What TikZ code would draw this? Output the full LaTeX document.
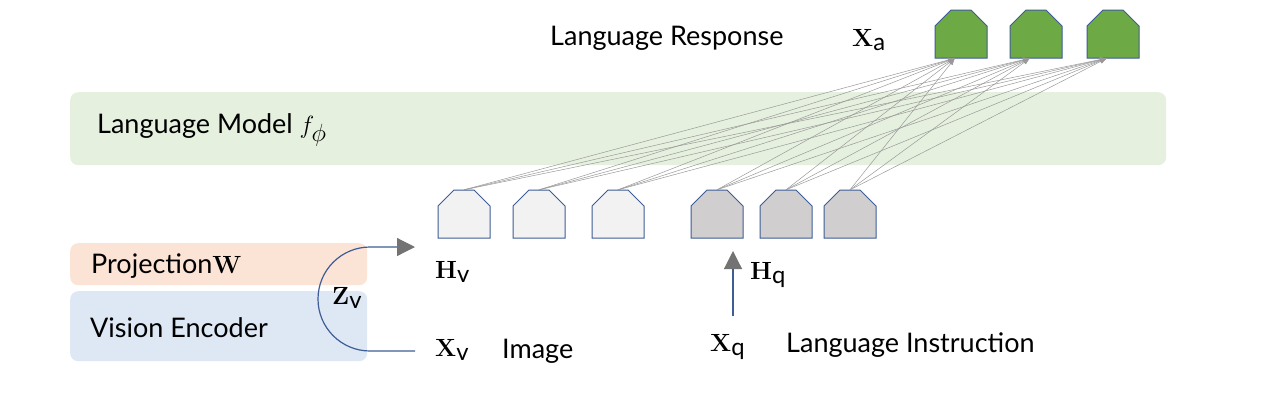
\documentclass[tikz,border=0pt]{standalone}
\usepackage{amsmath}
\usepackage[no-math]{fontspec}
\setmainfont{Lato}
\usetikzlibrary{arrows.meta}
\definecolor{tokb}{HTML}{3E5C96}
\definecolor{lmgreen}{HTML}{E6F0DF}
\definecolor{proj}{HTML}{FBE3D6}
\definecolor{venc}{HTML}{DEE8F5}
\definecolor{tgreen}{HTML}{6DAA45}
\definecolor{tlight}{HTML}{F2F2F2}
\definecolor{tdark}{HTML}{D0CECE}
\newcommand{\mytok}[4]{% name, x-left, y-top, fill
  \draw[tokb, fill=#4, line width=1pt] (#2,#3+48) -- (#2,#3+16) -- (#2+16,#3) -- (#2+36,#3) -- (#2+52,#3+16) -- (#2+52,#3+48) -- cycle;
  \node[inner sep=0pt, minimum width=52pt, minimum height=48pt] (#1) at (#2+26,#3+24) {};}
\begin{document}
\begin{tikzpicture}[x=1pt,y=-1pt,
  lbl/.style={font=\fontsize{27}{30}\selectfont, inner sep=0pt},
  mth/.style={font=\fontsize{34}{36}\selectfont, inner sep=0pt},
  box/.style={rounded corners=8pt, draw=none},
  conn/.style={gray!80, line width=0.5pt, -{Latex[length=7pt,width=5pt]}},
  bigarr/.style={tokb, line width=1.2pt, -{Triangle[length=18pt,width=18pt,fill=gray!90!black,color=gray!90!black]}}]
\useasboundingbox (0,0) rectangle (1271,400);
\node[box, fill=lmgreen, minimum width=1096pt, minimum height=73pt, anchor=north west] (lm) at (70,92) {};
\node[lbl, anchor=west] (lmt) at (97,130) {Language Model \fontsize{34}{36}\selectfont$f_\phi$};
\node[box, fill=proj, minimum width=297pt, minimum height=42pt, anchor=north west] (pj) at (70,243) {};
\node[lbl, anchor=west] (pjt) at (91,266) {Projection\fontsize{34}{36}\selectfont$\mathbf{W}$};
\node[box, fill=venc, minimum width=297pt, minimum height=70pt, anchor=north west] (ve) at (70,291) {};
\node[lbl, anchor=west] (vet) at (90,328) {Vision Encoder};
\mytok{v1}{438}{190}{tlight}
\mytok{v2}{513}{190}{tlight}
\mytok{v3}{592}{190}{tlight}
\mytok{q1}{691}{190}{tdark}
\mytok{q2}{760}{190}{tdark}
\mytok{q3}{824}{190}{tdark}
\mytok{a1}{935}{10}{tgreen}
\mytok{a2}{1010}{10}{tgreen}
\mytok{a3}{1087}{10}{tgreen}
\foreach \s in {v1,v2,v3,q1,q2,q3}{
  \foreach \t in {a1,a2,a3}{
    \draw[conn] (\s.north) -- ([xshift=-6pt]\t.south);
  }}
\node[lbl, anchor=west] (lr) at (550,38) {Language Response};
\node[mth, anchor=west] (xa) at (852,40) {$\mathbf{X}_{\text{a}}$};
\node[mth, anchor=west] (hv) at (435,272) {$\mathbf{H}_{\text{v}}$};
\node[mth, anchor=west] (xv) at (435,350) {$\mathbf{X}_{\text{v}}$};
\node[lbl, anchor=west] (img) at (502,351) {Image};
\node[mth, anchor=west] (zv) at (332,298) {$\mathbf{Z}_{\text{v}}$};
\coordinate (cs) at (415,351);
\coordinate (ce) at (415,247);
\draw[bigarr] (cs) -- (370,351) arc[start angle=90, end angle=270, radius=52] -- (ce);
\node[mth, anchor=west] (hq) at (750,275) {$\mathbf{H}_{\text{q}}$};
\node[mth, anchor=west] (xq) at (710,347) {$\mathbf{X}_{\text{q}}$};
\node[lbl, anchor=west] (li) at (786,345) {Language Instruction};
\coordinate (qs) at (733,316);
\draw[bigarr] (qs) -- (733,251);
\end{tikzpicture}
\end{document}
